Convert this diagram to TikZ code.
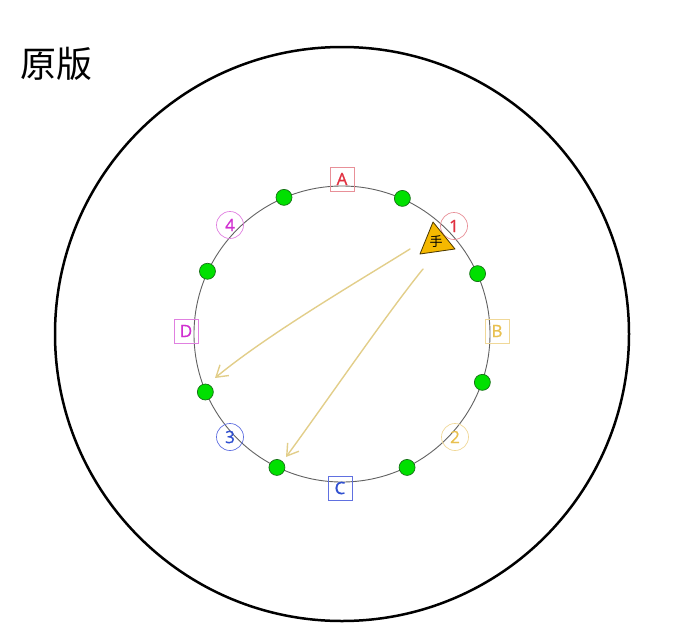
\documentclass[tikz,border=0pt]{standalone}
\usepackage{fontspec}
\setmainfont{Open Sans}
\newfontfamily\lblfont{Open Sans}[FakeBold=0.9]
\newfontfamily\cjk{Noto Sans CJK SC}
\usetikzlibrary{arrows.meta}
\definecolor{dotgreen}{HTML}{00E000}
\definecolor{dotedge}{HTML}{187018}
\definecolor{lred}{HTML}{E03040}
\definecolor{lredb}{HTML}{E89098}
\definecolor{lyel}{HTML}{E8C050}
\definecolor{lyelb}{HTML}{F0D898}
\definecolor{lblue}{HTML}{3050D0}
\definecolor{lblueb}{HTML}{6070E0}
\definecolor{lmag}{HTML}{D030D0}
\definecolor{lmagb}{HTML}{E080E0}
\definecolor{tan}{HTML}{E2CE8A}
\definecolor{tri}{HTML}{F5B800}
\tikzset{
  gdot/.style={circle,fill=dotgreen,draw=dotedge,line width=0.7pt,minimum size=16pt,inner sep=0pt},
  sqlabel/.style={rectangle,draw=#1,line width=0.7pt,minimum size=24pt,inner sep=0pt,font=\lblfont\fontsize{17}{18}\selectfont},
  cirlabel/.style={circle,draw=#1,line width=0.7pt,minimum size=27pt,inner sep=0pt,font=\lblfont\fontsize{17}{18}\selectfont},
  handarrow/.style={draw=tan,line width=1.4pt,line cap=round,line join=round,-{Straight Barb[length=11pt,width=14pt,line width=1.4pt]}}
}
\begin{document}
\begin{tikzpicture}[x=1pt,y=-1pt]
\useasboundingbox (0,0) rectangle (678,638);
\node[anchor=west,inner sep=0pt] (title) at (20,64) {\cjk\fontsize{36}{40}\selectfont 原版};
\node[circle,draw=black,line width=2.5pt,minimum size=574pt,inner sep=0pt] (outer) at (342,334) {};
\node[circle,draw=black!62,line width=0.9pt,minimum size=296pt,inner sep=0pt] (inner) at (342,334) {};
% square labels
\node[sqlabel=lredb,text=lred] (A) at (342,179) {A};
\node[sqlabel=lyelb,text=lyel] (B) at (497,331) {B};
\node[sqlabel=lblueb,text=lblue] (C) at (340,488) {C};
\node[sqlabel=lmagb,text=lmag] (D) at (186,331) {D};
% circle labels
\node[cirlabel=lredb,text=lred] (n1) at (454,226) {1};
\node[cirlabel=lyelb,text=lyel] (n2) at (455,437) {2};
\node[cirlabel=lblueb,text=lblue] (n3) at (230,437) {3};
\node[cirlabel=lmagb,text=lmag] (n4) at (230,225) {4};
% green dots
\node[gdot] (g1) at (inner.113) {};
\node[gdot] (g2) at (inner.66.7) {};
\node[gdot] (g3) at (inner.24.5) {};
\node[gdot] (g4) at (inner.-19.8) {};
\node[gdot] (g5) at (inner.-64.8) {};
\node[gdot] (g6) at (inner.-116) {};
\node[gdot] (g7) at (inner.203.5) {};
\node[gdot] (g8) at (inner.155.5) {};
% hand triangle
\draw[fill=tri,draw=black!70!tri,line width=0.8pt,line join=round] (433,222) -- (455,249) -- (420,254) -- cycle;
\node[inner sep=0pt,font=\cjk\fontsize{13}{14}\selectfont] (hand) at (436,242) {手};
% hand drawn arrows
\coordinate (s1) at (410,249);
\coordinate (e1) at (215,378);
\coordinate (s2) at (423,269);
\coordinate (e2) at (286,457);
\draw[handarrow] (s1) .. controls (362,279) and (268,334) .. (e1);
\draw[handarrow] (s2) .. controls (388,312) and (322,408) .. (e2);
\end{tikzpicture}
\end{document}
